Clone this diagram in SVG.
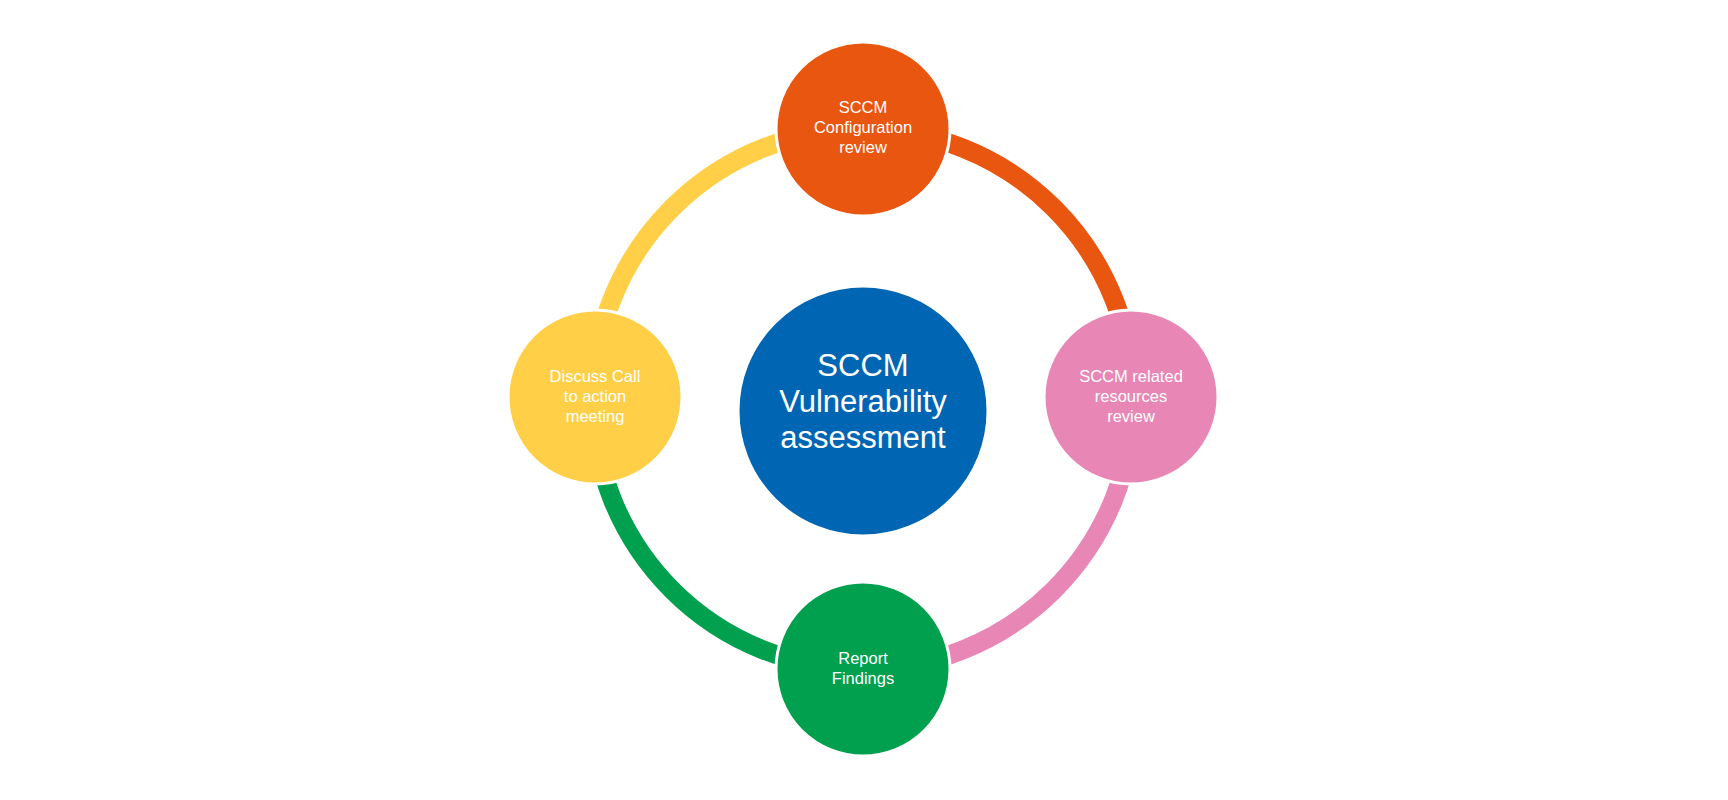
<svg xmlns="http://www.w3.org/2000/svg" width="1728" height="800" viewBox="0 0 1728 800">
<style>
.arc{fill:none;stroke-width:19}
.n{stroke:#fff;stroke-width:3}
text{font-family:"Liberation Sans",Arial,sans-serif;fill:#fff;text-anchor:middle}
.s{font-size:16.5px}
.b{font-size:31px}
</style>
<rect width="1728" height="800" fill="#fff"/>
<g id="connectors">
<path class="arc" stroke="#E8560F" d="M863,129 A270,270 0 0 1 1133,399"/>
<path class="arc" stroke="#E887B6" d="M1133,399 A270,270 0 0 1 863,669"/>
<path class="arc" stroke="#00A04E" d="M863,669 A270,270 0 0 1 593,399"/>
<path class="arc" stroke="#FFCF47" d="M593,399 A270,270 0 0 1 863,129"/>
</g>
<g id="center"><circle class="n" cx="863" cy="411" r="125" fill="#0066B3"/>
<text class="b" x="863" y="376">SCCM</text><text class="b" x="863" y="412">Vulnerability</text><text class="b" x="863" y="448">assessment</text></g>
<g id="top"><circle class="n" cx="863" cy="129" r="87" fill="#E8560F"/>
<text class="s" x="863" y="113">SCCM</text><text class="s" x="863" y="133">Configuration</text><text class="s" x="863" y="153">review</text></g>
<g id="right"><circle class="n" cx="1131" cy="397" r="87" fill="#E887B6"/>
<text class="s" x="1131" y="382">SCCM related</text><text class="s" x="1131" y="402">resources</text><text class="s" x="1131" y="422">review</text></g>
<g id="bottom"><circle class="n" cx="863" cy="669" r="87" fill="#00A04E"/>
<text class="s" x="863" y="664">Report</text><text class="s" x="863" y="684">Findings</text></g>
<g id="left"><circle class="n" cx="595" cy="397" r="87" fill="#FFCF47"/>
<text class="s" x="595" y="382">Discuss Call</text><text class="s" x="595" y="402">to action</text><text class="s" x="595" y="422">meeting</text></g>
</svg>
